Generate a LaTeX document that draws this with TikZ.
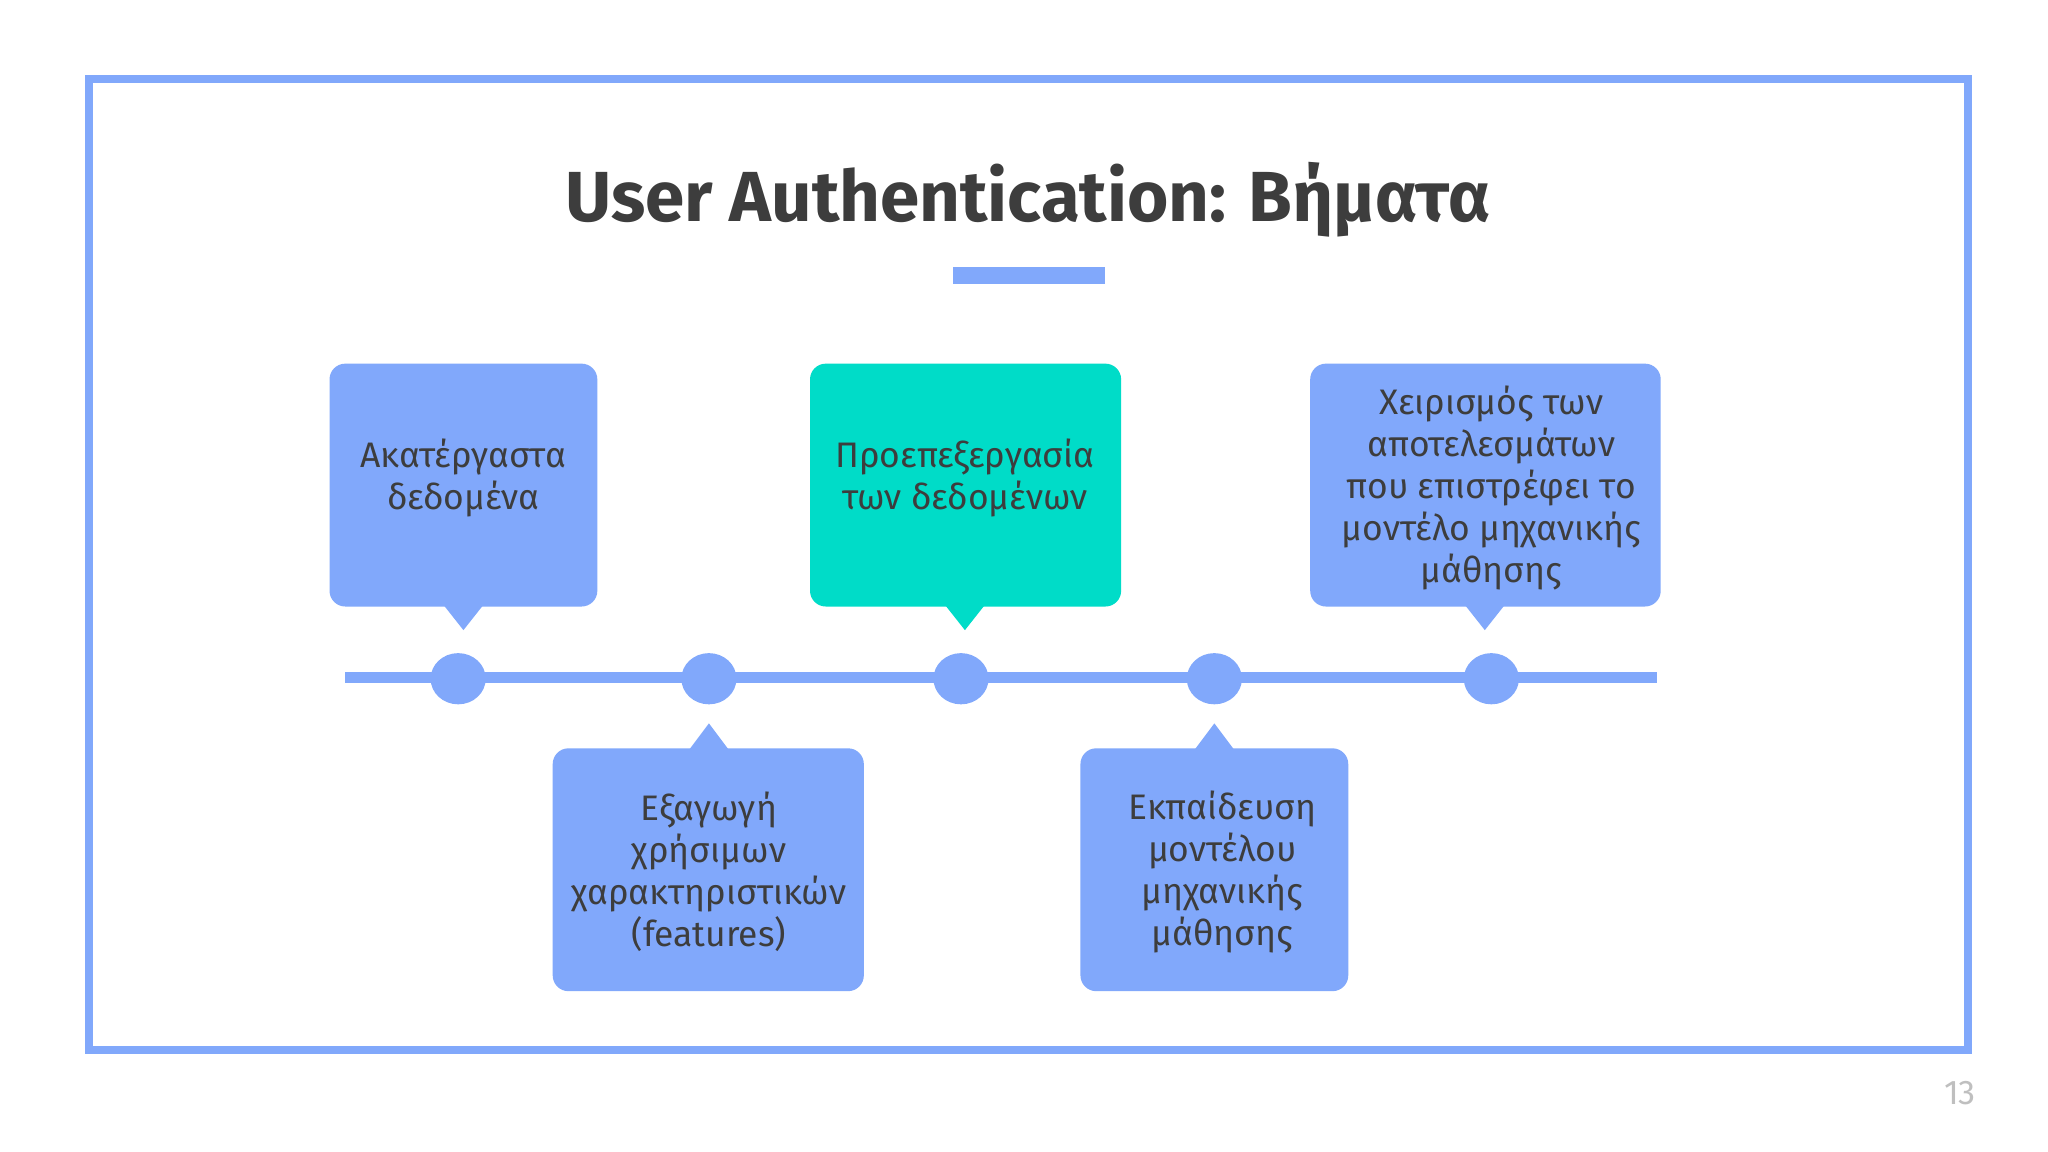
\documentclass[tikz,border=0pt]{standalone}
\usepackage{fontspec}
\usetikzlibrary{shapes.geometric}
\setmainfont{Fira Sans}
\definecolor{bl}{HTML}{81A8FB}
\definecolor{tl}{HTML}{00DCC8}
\definecolor{tx}{HTML}{3D3D3D}
\begin{document}
\begin{tikzpicture}[x=0.5pt,y=-0.5pt,
  box/.style={fill=bl,rounded corners=6pt},
  lbl/.style={text=tx,align=center,font=\fontsize{13.5}{16}\selectfont},
  dot/.style={ellipse,fill=bl,minimum width=21pt,minimum height=19.5pt,inner sep=0pt}]
\useasboundingbox (0,0) rectangle (1560,877.5);
\fill[white] (0,0) rectangle (1560,877.5);
\draw[bl,line width=3pt] (68,60) rectangle (1499,800);
\node[text=tx,font=\bfseries\fontsize{27}{30}\selectfont] (title) at (783,152) {User Authentication: Βήματα};
\fill[bl] (726,203) rectangle (842,216);
\draw[bl,line width=4.5pt] (263,516) coordinate (l0) -- (1262,516) coordinate (l1);
\foreach \x/\n in {349/c1,540/c2,732/c3,925/c4,1136/c5}
  \node[dot] (\n) at (\x,517) {};
% top boxes
\fill[box] (251,277) rectangle (455,462);
\fill[bl] (338,461) -- (353,480) -- (368,461) -- cycle;
\node[lbl] (t1) at (353,364) {Ακατέργαστα\\δεδομένα};
\fill[box,fill=tl] (617,277) rectangle (854,462);
\fill[tl] (720,461) -- (735,480) -- (750,461) -- cycle;
\node[lbl] (t3) at (735,364) {Προεπεξεργασία\\των δεδομένων};
\fill[box] (998,277) rectangle (1265,462);
\fill[bl] (1116,461) -- (1131,480) -- (1146,461) -- cycle;
\node[lbl] (t5) at (1136,372) {Χειρισμός των\\αποτελεσμάτων\\που επιστρέφει το\\μοντέλο μηχανικής\\μάθησης};
% bottom boxes
\fill[box] (421,570) rectangle (658,755);
\fill[bl] (525,571) -- (540,551) -- (555,571) -- cycle;
\node[lbl] (t2) at (540,664) {Εξαγωγή\\χρήσιμων\\χαρακτηριστικών\\(features)};
\fill[box] (823,570) rectangle (1027,755);
\fill[bl] (910,571) -- (925,551) -- (940,571) -- cycle;
\node[lbl] (t4) at (931,664) {Εκπαίδευση\\μοντέλου\\μηχανικής\\μάθησης};
\node[text=black!25,font=\fontsize{13}{15}\selectfont] (pg) at (1493,833) {13};
\end{tikzpicture}
\end{document}
